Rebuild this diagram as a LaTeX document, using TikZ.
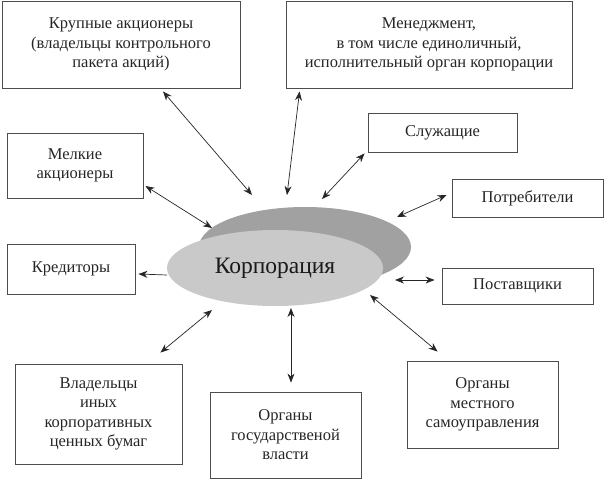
\documentclass[tikz,border=0pt]{standalone}
\usepackage{fontspec}
\setmainfont{Liberation Serif}
\usetikzlibrary{calc,arrows.meta,shapes.geometric}
\begin{document}
\begin{tikzpicture}[x=1pt,y=-1pt,
  box/.style={draw=black!70,line width=0.9pt,fill=white,align=center,inner sep=2pt,
    font=\fontsize{16.5}{19.5}\selectfont,text=black!85},
  arr/.style={line width=0.7pt,draw=black!85,{Stealth[length=9pt,width=7pt]}-{Stealth[length=9pt,width=7pt]}},
  arrone/.style={line width=0.7pt,draw=black!85,-{Stealth[length=9pt,width=7pt]}}]
\useasboundingbox (0,0) rectangle (604,480);
\fill[white] (0,0) rectangle (604,480);
% ellipses
\node[ellipse,fill=black!37,minimum width=212pt,minimum height=80pt,inner sep=0pt] (corpback) at (305,247) {};
\node[ellipse,fill=black!21,minimum width=216pt,minimum height=76pt,inner sep=0pt,
  font=\fontsize{23.5}{26}\selectfont,text=black!90] (corp) at (275,268) {Корпорация};
% boxes
\node[box,minimum width=238pt,minimum height=87pt] (krup) at (121,44.5) {Крупные акционеры\\(владельцы контрольного\\пакета акций)};
\node[box,minimum width=286pt,minimum height=87pt] (men) at (429,44.5) {Менеджмент,\\в том числе единоличный,\\исполнительный орган корпорации};
\node[box,minimum width=136pt,minimum height=65pt] (melk) at (75,165.5) {Мелкие\\акционеры};
\node[box,minimum width=128pt,minimum height=50pt] (kred) at (71,269) {Кредиторы};
\node[box,minimum width=149pt,minimum height=39pt] (sluz) at (442.5,132.5) {Служащие};
\node[box,minimum width=151pt,minimum height=38pt] (potr) at (527.5,198) {Потребители};
\node[box,minimum width=151pt,minimum height=36pt] (post) at (517.5,286) {Поставщики};
\node[box,minimum width=167pt,minimum height=100pt] (vlad) at (98.5,414) {Владельцы\\иных\\корпоративных\\ценных бумаг};
\node[box,minimum width=151pt,minimum height=86pt] (gos) at (285.5,435) {Органы\\государственой\\власти};
\node[box,minimum width=151pt,minimum height=87pt] (mest) at (482.5,404.5) {Органы\\местного\\самоуправления};
% connectors
\draw[arr] ($(krup.south)+(42,3)$) -- ($(corp.center)+(-23,-73)$);
\draw[arr] ($(men.south west)+(14,3)$) -- ($(corp.center)+(12,-73)$);
\draw[arr] ($(sluz.south west)+(-3,1)$) -- ($(corp.center)+(47,-69)$);
\draw[arr] ($(potr.west)+(-5,-3)$) -- ($(corp.center)+(122,-51)$);
\draw[arr] ($(post.west)+(-7,-6)$) -- ($(corp.center)+(120,12)$);
\draw[arr] ($(mest.north west)+(31,-9)$) -- ($(corp.center)+(95,27)$);
\draw[arr] ($(gos.north)+(5.5,-9)$) -- ($(corp.center)+(16,40)$);
\draw[arr] ($(vlad.north east)+(-22,-11)$) -- ($(corp.center)+(-63,42)$);
\draw[arrone] ($(corp.center)+(-108,7)$) -- ($(kred.east)+(3,5)$);
\draw[arr] ($(melk.east)+(2,20.5)$) -- ($(corp.center)+(-63,-40)$);
\end{tikzpicture}
\end{document}
